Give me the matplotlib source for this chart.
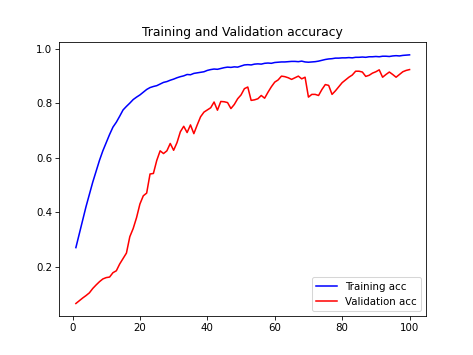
import matplotlib
matplotlib.use('Agg')
import matplotlib.pyplot as plt

acc = [0.27, 0.32, 0.37, 0.42, 0.465, 0.51, 0.55, 0.59, 0.625, 0.655,
       0.685, 0.712, 0.73, 0.752, 0.775, 0.788, 0.80, 0.813, 0.822, 0.83,
       0.84, 0.85, 0.857, 0.861, 0.864, 0.87, 0.876, 0.879, 0.884, 0.888,
       0.893, 0.897, 0.90, 0.905, 0.904, 0.909, 0.911, 0.913, 0.915, 0.92,
       0.923, 0.925, 0.924, 0.927, 0.93, 0.932, 0.931, 0.933, 0.932, 0.936,
       0.94, 0.941, 0.94, 0.943, 0.944, 0.943, 0.946, 0.947, 0.946, 0.949,
       0.95, 0.951, 0.951, 0.952, 0.953, 0.953, 0.952, 0.954, 0.951, 0.95,
       0.951, 0.952, 0.954, 0.957, 0.96, 0.962, 0.963, 0.965, 0.965, 0.966,
       0.966, 0.967, 0.966, 0.968, 0.968, 0.969, 0.968, 0.97, 0.97, 0.971,
       0.97, 0.972, 0.972, 0.971, 0.973, 0.974, 0.973, 0.975, 0.976, 0.977]

val_acc = [0.065, 0.075, 0.085, 0.094, 0.104, 0.12, 0.133, 0.145, 0.155, 0.16,
           0.162, 0.178, 0.185, 0.21, 0.23, 0.25, 0.31, 0.34, 0.38, 0.43,
           0.46, 0.47, 0.54, 0.542, 0.59, 0.625, 0.615, 0.625, 0.652, 0.627,
           0.655, 0.695, 0.715, 0.692, 0.72, 0.688, 0.72, 0.75, 0.767, 0.775,
           0.783, 0.804, 0.774, 0.806, 0.805, 0.802, 0.78, 0.795, 0.816, 0.83,
           0.853, 0.859, 0.81, 0.812, 0.816, 0.828, 0.818, 0.84, 0.86, 0.877,
           0.885, 0.899, 0.897, 0.893, 0.887, 0.893, 0.899, 0.889, 0.895, 0.822,
           0.832, 0.832, 0.828, 0.85, 0.868, 0.865, 0.832, 0.845, 0.86, 0.875,
           0.885, 0.895, 0.903, 0.917, 0.917, 0.914, 0.898, 0.902, 0.91, 0.915,
           0.922, 0.895, 0.905, 0.914, 0.905, 0.895, 0.905, 0.915, 0.92, 0.923]

epochs = range(1, len(acc) + 1)

plt.figure(figsize=(6.4, 4.8), dpi=74)
plt.plot(epochs, acc, 'b', label='Training acc')
plt.plot(epochs, val_acc, 'r', label='Validation acc')
plt.title('Training and Validation accuracy')
plt.legend()
plt.savefig('out.png')
